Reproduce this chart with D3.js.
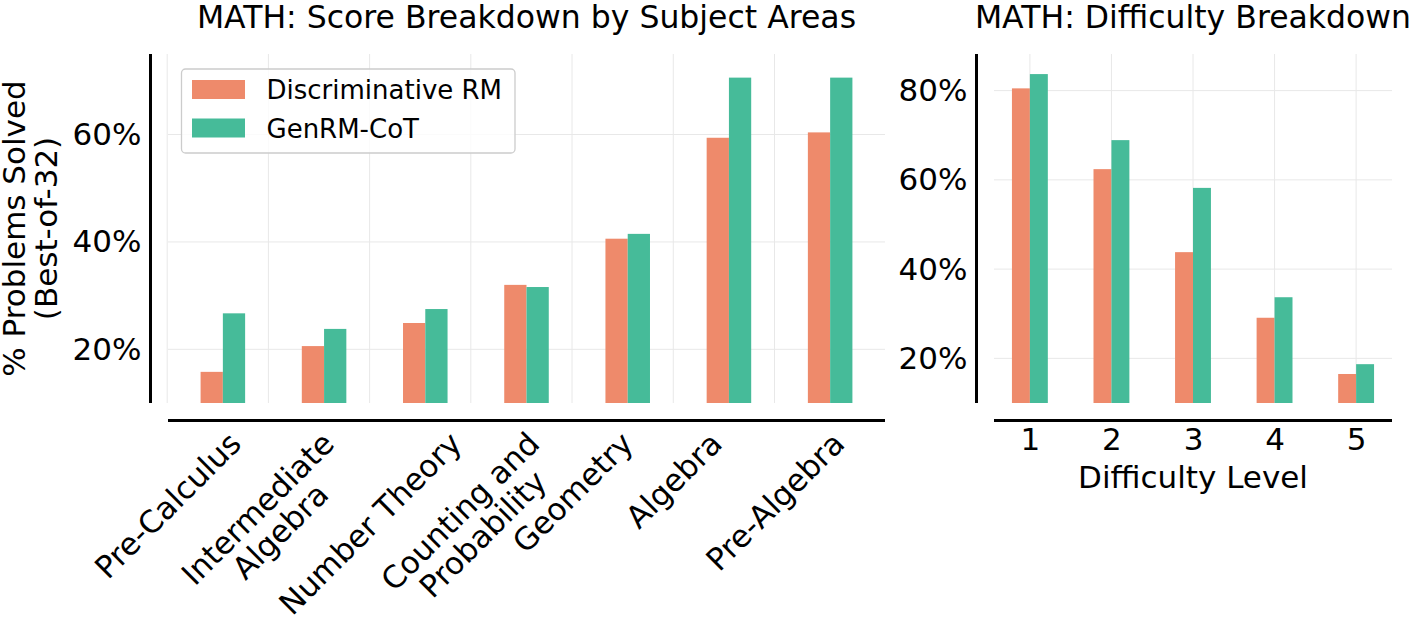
<!DOCTYPE html>
<html lang="en">
<head>
<meta charset="UTF-8" />
<title>MATH breakdown</title>
<script src="https://d3js.org/d3.v7.min.js"></script>
<style>
  html, body { margin: 0; padding: 0; background: #fff; }
  svg { display: block; font-family: "DejaVu Sans", sans-serif; }
  .grid line { stroke: #e8e8e8; stroke-width: 1; }
  .spine { stroke: #000; stroke-width: 3; }
</style>
</head>
<body>
<svg width="1414" height="620"></svg>
<script>
  // data
  const subjects = ["Pre-Calculus", "Intermediate\nAlgebra", "Number Theory", "Counting and\nProbability", "Geometry", "Algebra", "Pre-Algebra"];
  const discSubject = [15.8, 20.6, 24.9, 32.0, 40.6, 59.4, 60.4];
  const genSubject  = [26.7, 23.8, 27.5, 31.6, 41.5, 70.6, 70.6];

  const levels = [1, 2, 3, 4, 5];
  const discLevel = [80.5, 62.4, 43.8, 29.1, 16.5];
  const genLevel  = [83.7, 68.9, 58.2, 33.7, 18.7];

  const seriesNames = ["Discriminative RM", "GenRM-CoT"];
  const colors = ["#ee8a6b", "#46bb99"];
  const pctTicks = [20, 40, 60, 80];

  const svg = d3.select("svg");
  const FS = 31;
  const barW = 0.22;
  const plotTop = 54, plotBottom = 403;
  const spineOff = 17.5;

  // ---------- left panel ----------
  const xL = d3.scaleLinear().domain([0.008, 7.092]).range([168, 885]);
  const yL = d3.scaleLinear().domain([10, 75]).range([plotBottom, plotTop]);
  const shiftL = 0.55; // bar pair centre sits right of the tick

  // ---------- right panel ----------
  const xR = d3.scaleLinear().domain([0.56, 5.44]).range([994, 1392]);
  const yR = d3.scaleLinear().domain([10, 88.2]).range([plotBottom, plotTop]);

  function drawPanel(x, y, ticksX, ticksY, series, cats, shift, title) {
    const [x0, x1] = x.range();
    const g = svg.append("g");

    // grid
    const grid = g.append("g").attr("class", "grid");
    grid.selectAll("line.v").data(ticksX).join("line").attr("class", "v")
      .attr("x1", d => x(d)).attr("x2", d => x(d)).attr("y1", plotTop).attr("y2", plotBottom);
    grid.selectAll("line.h").data(ticksY).join("line").attr("class", "h")
      .attr("x1", x0).attr("x2", x1).attr("y1", d => y(d)).attr("y2", d => y(d));

    // bars
    series.forEach((vals, s) => {
      g.append("g").attr("fill", colors[s])
        .selectAll("rect").data(vals).join("rect")
        .attr("x", (d, i) => x(cats[i] + shift + (s - 1) * barW))
        .attr("width", (d, i) => x(cats[i] + shift + s * barW) - x(cats[i] + shift + (s - 1) * barW))
        .attr("y", d => y(d))
        .attr("height", d => y(y.domain()[0]) - y(d));
    });

    // spines (offset, seaborn-despine style)
    const sx = x0 - spineOff, sy = plotBottom + spineOff;
    g.append("line").attr("class", "spine").attr("x1", sx).attr("x2", sx).attr("y1", plotTop).attr("y2", plotBottom);
    g.append("line").attr("class", "spine").attr("x1", x0).attr("x2", x1).attr("y1", sy).attr("y2", sy);

    // y axis labels
    g.append("g").attr("transform", `translate(${sx},0)`)
      .call(d3.axisLeft(y).tickValues(ticksY).tickSize(0).tickPadding(9).tickFormat(d => d + "%"))
      .call(a => a.select(".domain").remove())
      .selectAll("text").attr("font-size", FS).attr("font-family", "DejaVu Sans").attr("fill", "#000");

    // title
    g.append("text").attr("x", (x0 + x1) / 2).attr("y", 27.5)
      .attr("text-anchor", "middle").attr("font-size", 31.5).text(title);

    return { g, sy };
  }

  const left = drawPanel(xL, yL, d3.range(subjects.length), [20, 40, 60],
    [discSubject, genSubject], d3.range(subjects.length), shiftL,
    "MATH: Score Breakdown by Subject Areas");

  const right = drawPanel(xR, yR, levels, pctTicks,
    [discLevel, genLevel], levels, 0,
    "MATH: Difficulty Breakdown");

  // left x labels, rotated 45 degrees, centred on the tick
  const labelTop = 425;
  const lineGap = 32;
  left.g.append("g").attr("transform", `translate(0,${left.sy})`)
    .call(d3.axisBottom(xL).tickValues(d3.range(subjects.length)).tickSize(0).tickFormat((d, i) => subjects[i]))
    .call(a => a.select(".domain").remove())
    .selectAll(".tick text").each(function (d, i) {
      const t = d3.select(this);
      const lines = subjects[i].split("\n");
      t.text(null).attr("y", null).attr("dy", null)
        .attr("font-size", FS).attr("font-family", "DejaVu Sans").attr("fill", "#000")
        .attr("text-anchor", "middle");
      lines.forEach((ln, k) => t.append("tspan").attr("x", 0).attr("y", k * lineGap).text(ln));
      const b = this.getBBox();
      const cx = b.x + b.width / 2, cy = b.y + b.height / 2;
      const H = (b.width + b.height) * Math.SQRT1_2;
      t.attr("transform", `translate(0,${labelTop - left.sy + H / 2}) rotate(-45) translate(${-cx},${-cy})`);
    });

  // y label for left panel
  const yl = svg.append("g").attr("transform", `translate(0,${(plotTop + plotBottom) / 2}) rotate(-90)`)
    .attr("text-anchor", "middle").attr("font-size", FS);
  yl.append("text").attr("x", 0).attr("y", 25).text("% Problems Solved");
  yl.append("text").attr("x", 0).attr("y", 57).text("(Best-of-32)");

  // right x labels
  right.g.append("g").attr("transform", `translate(0,${right.sy})`)
    .call(d3.axisBottom(xR).tickValues(levels).tickSize(0).tickPadding(7.5).tickFormat(d3.format("d")))
    .call(a => a.select(".domain").remove())
    .selectAll("text").attr("font-size", FS).attr("font-family", "DejaVu Sans").attr("fill", "#000");

  right.g.append("text").attr("x", 1193).attr("y", 488)
    .attr("text-anchor", "middle").attr("font-size", FS).text("Difficulty Level");

  // legend
  const leg = svg.append("g");
  leg.append("rect").attr("x", 181.5).attr("y", 69).attr("width", 333.5).attr("height", 84)
    .attr("rx", 4).attr("fill", "#fff").attr("fill-opacity", 0.8)
    .attr("stroke", "#cccccc").attr("stroke-width", 1.3);
  seriesNames.forEach((name, s) => {
    leg.append("rect").attr("x", 192).attr("y", 80 + s * 38.5).attr("width", 53).attr("height", 19)
      .attr("fill", colors[s]);
    leg.append("text").attr("x", 266.5).attr("y", 99 + s * 38.5).attr("font-size", 26).text(name);
  });
</script>
</body>
</html>
